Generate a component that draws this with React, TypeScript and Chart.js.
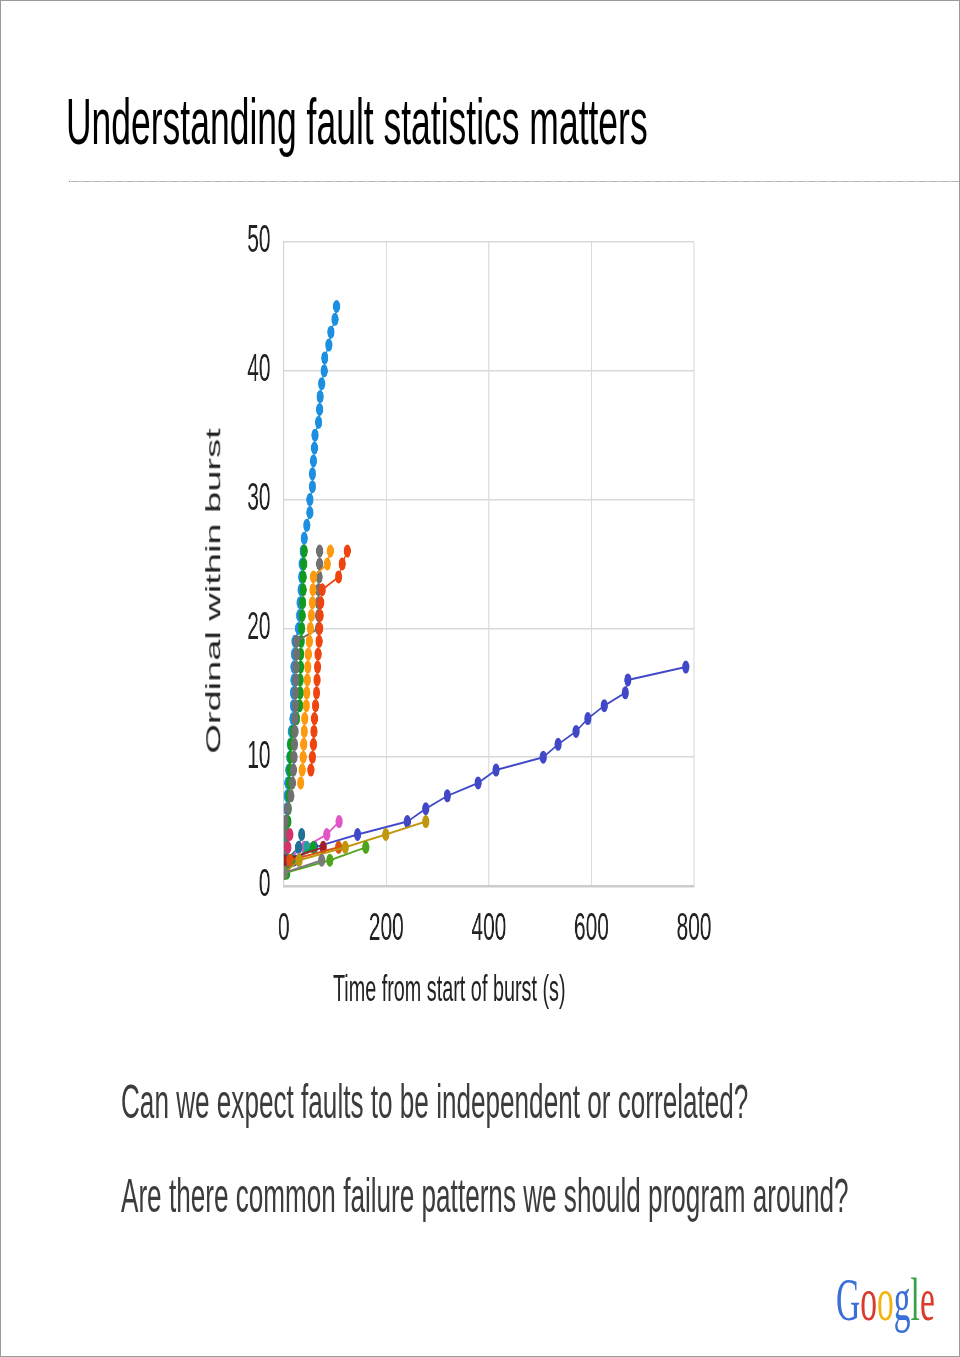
import React, { useEffect, useRef } from "react";
import { Chart, registerables } from "chart.js";

Chart.register(...registerables);

// ---- data (time from start of burst in seconds, ordinal within burst) ----
const xTicks = [0, 200, 400, 600, 800];
const yTicks = [0, 10, 20, 30, 40, 50];

const blueX = [1, 2, 3, 4, 5, 6, 7, 8, 10, 12, 13, 15, 18, 19, 19, 20, 20, 21, 22, 29, 31, 32, 34, 35, 36, 38, 40, 45, 51, 51, 56, 56, 58, 60, 61, 68, 70, 71, 74, 79, 80, 88, 92, 100, 103];
const blueY = [1, 2, 3, 4, 5, 6, 7, 8, 9, 10, 11, 12, 13, 14, 15, 16, 17, 18, 19, 20, 21, 22, 23, 24, 25, 26, 27, 28, 29, 30, 31, 32, 33, 34, 35, 36, 37, 38, 39, 40, 41, 42, 43, 44, 45];

const greenX = [6, 7, 7, 8, 8, 9, 10, 11, 12, 13, 14, 18, 25, 31, 32, 32, 33, 33, 34, 35, 36, 37, 38, 38, 39, 40];
const greenY = [1, 2, 3, 4, 5, 6, 7, 8, 9, 10, 11, 12, 13, 14, 15, 16, 17, 18, 19, 20, 21, 22, 23, 24, 25, 26];

const grayX = [0, 1, 1, 2, 3, 8, 14, 17, 19, 20, 21, 22, 22, 23, 23, 24, 24, 25, 25, 68, 68, 68, 68, 69, 70, 70];
const grayY = [1, 2, 3, 4, 5, 6, 7, 8, 9, 10, 11, 12, 13, 14, 15, 16, 17, 18, 19, 20, 21, 22, 23, 24, 25, 26];

const orangeX = [33, 36, 38, 39, 40, 41, 44, 45, 46, 47, 48, 50, 52, 54, 56, 57, 58, 85, 91];
const orangeY = [8, 9, 10, 11, 12, 13, 14, 15, 16, 17, 18, 19, 20, 21, 22, 23, 24, 25, 26];

const redX = [53, 56, 58, 59, 60, 62, 64, 65, 66, 67, 69, 70, 71, 72, 75, 107, 114, 124];
const redY = [9, 10, 11, 12, 13, 14, 15, 16, 17, 18, 19, 20, 21, 22, 23, 24, 25, 26];

const indigoX = [2, 20, 60, 144, 241, 277, 319, 379, 414, 506, 535, 570, 593, 625, 666, 671, 784];
const indigoY = [1, 2, 3, 4, 5, 6, 7, 8, 9, 10, 11, 12, 13, 14, 15, 16, 17];

const goldX = [1, 30, 120, 199, 277];
const goldY = [1, 2, 3, 4, 5];

const limeX = [2, 90, 160];
const limeY = [1, 2, 3];

const magentaX = [1, 2, 40, 84, 108];
const magentaY = [1, 2, 3, 4, 5];

const crimsonX = [0, 3, 8, 12];
const crimsonY = [1, 2, 3, 4];

const steelX = [1, 5, 29, 35];
const steelY = [1, 2, 3, 4];

const tealX = [1, 29, 45];
const tealY = [1, 2, 3];

const darkGreenX = [3, 15, 58];
const darkGreenY = [1, 2, 3];

const maroonX = [0, 0, 77];
const maroonY = [1, 2, 3];

const rustX = [1, 12, 107];
const rustY = [1, 2, 3];

const gray2X = [0, 74];
const gray2Y = [1, 2];

const S = 0.55; // horizontal squeeze of the whole slide
const FONT = "'Liberation Sans', Arial, Helvetica, sans-serif";

function pts(xs: number[], ys: number[]) {
  return xs.map((x, i) => ({ x, y: ys[i] }));
}

const seriesDefs: { xs: number[]; ys: number[]; color: string }[] = [
  { xs: gray2X, ys: gray2Y, color: "#7a7a7a" },
  { xs: limeX, ys: limeY, color: "#4ea51c" },
  { xs: goldX, ys: goldY, color: "#bf960c" },
  { xs: rustX, ys: rustY, color: "#d9540c" },
  { xs: maroonX, ys: maroonY, color: "#a51d2d" },
  { xs: darkGreenX, ys: darkGreenY, color: "#139a2a" },
  { xs: tealX, ys: tealY, color: "#1fa39a" },
  { xs: steelX, ys: steelY, color: "#1f6f96" },
  { xs: crimsonX, ys: crimsonY, color: "#d6336c" },
  { xs: magentaX, ys: magentaY, color: "#e055c8" },
  { xs: indigoX, ys: indigoY, color: "#4048c8" },
  { xs: redX, ys: redY, color: "#ee4410" },
  { xs: orangeX, ys: orangeY, color: "#fd9a10" },
  { xs: grayX, ys: grayY, color: "#707070" },
  { xs: greenX, ys: greenY, color: "#129a1f" },
  { xs: blueX, ys: blueY, color: "#1d8fe1" },
];

function FaultChart() {
  const ref = useRef<HTMLCanvasElement | null>(null);
  useEffect(() => {
    if (!ref.current) return;
    const datasets = seriesDefs.map((s) => ({
      data: pts(s.xs, s.ys),
      showLine: true,
      borderColor: s.color,
      backgroundColor: s.color,
      borderWidth: 2,
      pointRadius: 6.5,
      pointBorderWidth: 0,
      pointBackgroundColor: s.color,
    }));
    const chart = new Chart(ref.current, {
      type: "scatter",
      data: { datasets },
      options: {
        animation: false,
        responsive: false,
        devicePixelRatio: 1,
        layout: { padding: { left: 0, right: 67, top: 26, bottom: 0 } },
        plugins: { legend: { display: false }, tooltip: { enabled: false } },
        scales: {
          x: {
            type: "linear",
            min: 0,
            max: 800,
            afterBuildTicks: (scale: any) => {
              scale.ticks = xTicks.map((v) => ({ value: v }));
            },
            afterFit: (scale: any) => {
              scale.height = 130;
              scale.paddingLeft = 0;
              scale.paddingRight = 0;
            },
            ticks: {
              font: { family: FONT, size: 38 },
              color: "#222",
              padding: 21,
            },
            grid: { color: "#d9d9d9", lineWidth: 1.8, drawTicks: false },
            border: { color: "#cccccc", width: 2.5 },
          },
          y: {
            type: "linear",
            min: 0,
            max: 50,
            afterBuildTicks: (scale: any) => {
              scale.ticks = yTicks.map((v) => ({ value: v }));
            },
            afterFit: (scale: any) => {
              scale.width = 187;
              scale.paddingTop = 0;
              scale.paddingBottom = 0;
            },
            ticks: {
              font: { family: FONT, size: 38 },
              color: "#222",
              padding: 24,
            },
            grid: { color: "#d9d9d9", lineWidth: 1.5, drawTicks: false },
            border: { color: "#d0d0d0", width: 1.8 },
          },
        },
      },
    } as any);
    return () => chart.destroy();
  }, []);
  return <canvas ref={ref} width={1000} height={800} style={{ display: "block" }} />;
}

const px = (screenX: number) => screenX / S;

export default function App() {
  const text: React.CSSProperties = {
    position: "absolute",
    fontFamily: FONT,
    lineHeight: 1,
    whiteSpace: "nowrap",
    margin: 0,
  };
  const googleColors = ["#3b6fd8", "#d93a2b", "#f2b50f", "#3b6fd8", "#3aa04a", "#d93a2b"];
  const googleLetters = ["G", "o", "o", "g", "l", "e"];
  return (
    <div
      style={{
        position: "absolute",
        left: 0,
        top: 0,
        width: 960,
        height: 1357,
        overflow: "hidden",
        background: "#fff",
        border: "1px solid #9a9a9a",
        boxSizing: "border-box",
      }}
    >
      <div
        style={{
          position: "absolute",
          left: 0,
          top: 0,
          width: 960 / S,
          height: 1357,
          transform: `scaleX(${S})`,
          transformOrigin: "0 0",
        }}
      >
        <div style={{ ...text, left: px(65), top: 89, fontSize: 64.5, color: "#000" }}>
          Understanding fault statistics matters
        </div>
        <div
          style={{
            position: "absolute",
            left: px(68),
            top: 180,
            width: px(958) - px(68),
            height: 0,
            borderTop: "1px dotted #777",
          }}
        />
        <div style={{ position: "absolute", left: px(180), top: 215 }}>
          <FaultChart />
        </div>
        <div
          style={{
            ...text,
            left: px(212),
            top: 590,
            fontSize: 38,
            color: "#222",
            transform: "translate(-50%, -50%) rotate(-90deg)",
          }}
        >
          Ordinal within burst
        </div>
        <div style={{ ...text, left: px(332), top: 970, fontSize: 36, color: "#222" }}>
          Time from start of burst (s)
        </div>
        <div style={{ ...text, left: px(120), top: 1077, fontSize: 47.5, color: "#3c3c3c" }}>
          Can we expect faults to be independent or correlated?
        </div>
        <div style={{ ...text, left: px(120), top: 1171, fontSize: 47.5, color: "#3c3c3c" }}>
          Are there common failure patterns we should program around?
        </div>
        <div
          style={{
            ...text,
            left: px(835),
            top: 1268,
            fontSize: 61,
            fontFamily: "'Liberation Serif', 'DejaVu Serif', serif",
          }}
        >
          {googleLetters.map((ch, i) => (
            <span key={i} style={{ color: googleColors[i] }}>
              {ch}
            </span>
          ))}
        </div>
      </div>
    </div>
  );
}
